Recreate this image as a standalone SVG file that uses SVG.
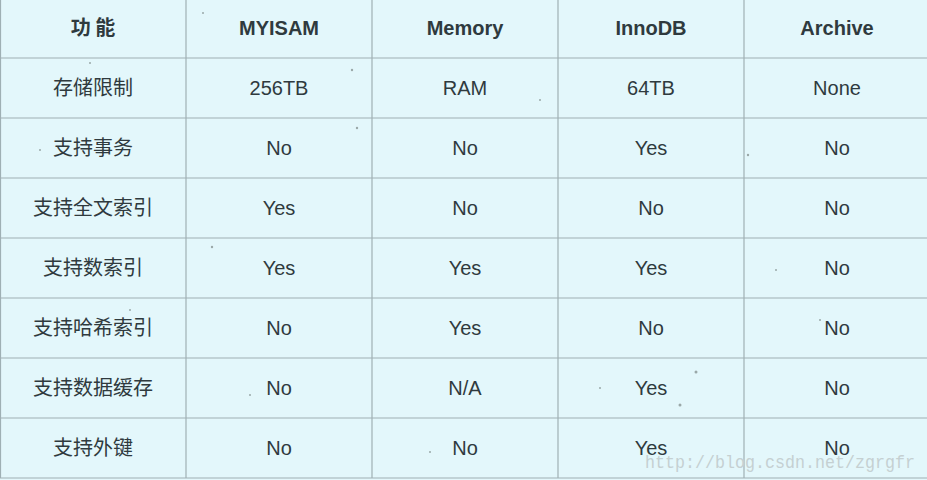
<svg xmlns="http://www.w3.org/2000/svg" width="927" height="480" viewBox="0 0 927 480">
<style>
.g line{stroke:#9fb0b4;stroke-width:1.2}
text{font-family:"Liberation Sans",Arial,"Noto Sans CJK SC",sans-serif;font-size:20px;fill:#2f3a3e;text-anchor:middle}
.h{font-weight:bold}
.c{font-family:"Noto Sans CJK SC",sans-serif;font-size:20px}
.w{font-family:"Liberation Mono",monospace;font-size:18px;fill:#c5d0d2;text-anchor:start}
.s{fill:#9aa8a8}
</style>
<rect width="927" height="480" fill="#e3f7fb"/>
<g class="s">
<circle cx="203" cy="13" r="1"/><circle cx="352" cy="70" r="1.2"/><circle cx="90" cy="63" r="1"/><circle cx="357" cy="128" r="1.2"/><circle cx="696" cy="372" r="1.5"/><circle cx="680" cy="405" r="1.5"/><circle cx="212" cy="247" r="1.2"/><circle cx="748" cy="155" r="1.2"/><circle cx="776" cy="270" r="1"/><circle cx="40" cy="150" r="1"/><circle cx="600" cy="388" r="1"/><circle cx="250" cy="395" r="1"/><circle cx="430" cy="452" r="1"/><circle cx="540" cy="100" r="1"/><circle cx="820" cy="320" r="1"/><circle cx="130" cy="310" r="1"/>
</g>
<g class="g">
<line x1="0.5" y1="0" x2="0.5" y2="478"/>
<line x1="186" y1="0" x2="186" y2="478"/>
<line x1="372" y1="0" x2="372" y2="478"/>
<line x1="558" y1="0" x2="558" y2="478"/>
<line x1="744" y1="0" x2="744" y2="478"/>
<line x1="0" y1="58" x2="927" y2="58"/>
<line x1="0" y1="118" x2="927" y2="118"/>
<line x1="0" y1="178" x2="927" y2="178"/>
<line x1="0" y1="238" x2="927" y2="238"/>
<line x1="0" y1="298" x2="927" y2="298"/>
<line x1="0" y1="358" x2="927" y2="358"/>
<line x1="0" y1="418" x2="927" y2="418"/>
<line x1="0" y1="478" x2="927" y2="478"/>
</g>
<g id="header">
<text class="c h" x="93" y="35">功 能</text>
<text class="h" x="279" y="35">MYISAM</text>
<text class="h" x="465" y="35">Memory</text>
<text class="h" x="651" y="35">InnoDB</text>
<text class="h" x="837" y="35">Archive</text>
</g>
<g id="row1">
<text class="c" x="93" y="95">存储限制</text>
<text x="279" y="95">256TB</text><text x="465" y="95">RAM</text><text x="651" y="95">64TB</text><text x="837" y="95">None</text>
</g>
<g id="row2">
<text class="c" x="93" y="155">支持事务</text>
<text x="279" y="155">No</text><text x="465" y="155">No</text><text x="651" y="155">Yes</text><text x="837" y="155">No</text>
</g>
<g id="row3">
<text class="c" x="93" y="215">支持全文索引</text>
<text x="279" y="215">Yes</text><text x="465" y="215">No</text><text x="651" y="215">No</text><text x="837" y="215">No</text>
</g>
<g id="row4">
<text class="c" x="93" y="275">支持数索引</text>
<text x="279" y="275">Yes</text><text x="465" y="275">Yes</text><text x="651" y="275">Yes</text><text x="837" y="275">No</text>
</g>
<g id="row5">
<text class="c" x="93" y="335">支持哈希索引</text>
<text x="279" y="335">No</text><text x="465" y="335">Yes</text><text x="651" y="335">No</text><text x="837" y="335">No</text>
</g>
<g id="row6">
<text class="c" x="93" y="395">支持数据缓存</text>
<text x="279" y="395">No</text><text x="465" y="395">N/A</text><text x="651" y="395">Yes</text><text x="837" y="395">No</text>
</g>
<g id="row7">
<text class="c" x="93" y="455">支持外键</text>
<text x="279" y="455">No</text><text x="465" y="455">No</text><text x="651" y="455">Yes</text><text x="837" y="455">No</text>
</g>
<text class="w" x="645" y="468" textLength="270" lengthAdjust="spacingAndGlyphs">http://blog.csdn.net/zgrgfr</text>
</svg>
